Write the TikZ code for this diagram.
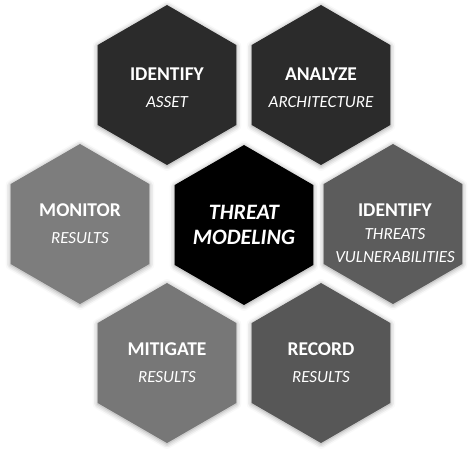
\documentclass[tikz,border=0pt]{standalone}
\usepackage{fontspec}
\setmainfont{Carlito}
\usetikzlibrary{shapes.geometric,shadows.blur}
\definecolor{hexdark}{gray}{0.17}
\definecolor{hexmid}{gray}{0.36}
\definecolor{hexlight}{gray}{0.49}
\newcommand{\subline}[1]{{\fontsize{17}{23}\selectfont\itshape #1}}
\tikzset{
    %Define style for hexagons
    hexa/.style={
           regular polygon,
           regular polygon sides=6,
           shape border rotate=30,
           minimum size=160pt,
           inner sep=0pt,
           draw=none,
           blur shadow={shadow xshift=0pt, shadow yshift=-1pt,
                        shadow blur radius=5pt, shadow opacity=40}},
    %Define style for texts
    hextext/.style={
           text=white,
           align=center,
           font=\fontsize{19.5}{24}\selectfont}
}
\begin{document}
\begin{tikzpicture}[x=1pt,y=-1pt]
\useasboundingbox (0,0) rectangle (474,449);
% hexagons
\node[hexa, fill=hexdark](asset) at (167,85){};
\node[hexa, fill=hexdark](arch) at (321,85){};
\node[hexa, fill=hexlight](monitor) at (80,224){};
\node[hexa, fill=hexmid](threats) at (393,224){};
\node[hexa, fill=hexlight!95!black](mitigate) at (167,363){};
\node[hexa, fill=hexmid!95!black](record) at (321,363){};
\node[hexa, fill=black](core) at (244,225){};
% texts
\node[hextext, yshift=-3pt] at (asset) {\textbf{IDENTIFY}\\[3pt]\subline{ASSET}};
\node[hextext, yshift=-3pt] at (arch) {\textbf{ANALYZE}\\[3pt]\subline{ARCHITECTURE}};
\node[hextext] at (monitor) {\textbf{MONITOR}\\[3pt]\subline{RESULTS}};
\node[hextext, yshift=-9pt, xshift=2pt] at (threats) {\textbf{IDENTIFY}\\[-1pt]\subline{THREATS}\\[-1pt]\subline{VULNERABILITIES}};
\node[hextext] at (mitigate) {\textbf{MITIGATE}\\[3pt]\subline{RESULTS}};
\node[hextext] at (record) {\textbf{RECORD}\\[3pt]\subline{RESULTS}};
\node[hextext, font=\fontsize{22}{25}\selectfont\bfseries\itshape] at (core) {THREAT\\MODELING};
\end{tikzpicture}
\end{document}
